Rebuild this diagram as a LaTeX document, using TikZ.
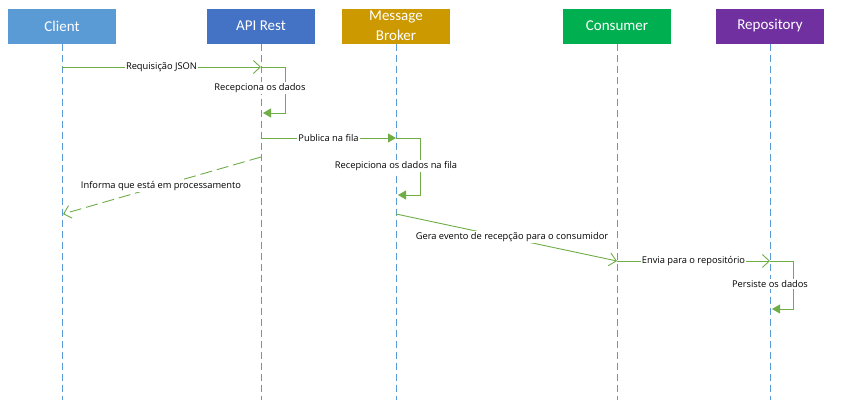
\documentclass[tikz,border=0pt]{standalone}
\usepackage{fontspec}
\setmainfont{Open Sans}
\newfontfamily\headfont{Carlito}
\usetikzlibrary{arrows.meta}
\definecolor{cClient}{HTML}{5B9BD5}
\definecolor{cApi}{HTML}{4472C4}
\definecolor{cBroker}{HTML}{CC9900}
\definecolor{cCons}{HTML}{00B050}
\definecolor{cRepo}{HTML}{7030A0}
\definecolor{cMsg}{HTML}{70AD47}
\definecolor{cLife}{HTML}{5B9BD5}
\tikzset{
  head/.style={minimum width=108pt, minimum height=35pt, inner sep=0pt, text=white, font=\headfont\fontsize{15}{19}\selectfont, align=center},
  life/.style={draw=cLife, line width=0.8pt, dash pattern=on 7pt off 4pt},
  msgopen/.style={draw=cMsg, line width=0.9pt, -{Straight Barb[length=7pt,width=13pt]}},
  msgfill/.style={draw=cMsg, line width=0.9pt, -{Triangle[length=8pt,width=9pt]}},
  lbl/.style={fill=white, inner sep=1pt, font=\fontsize{9.3}{10}\selectfont, text=black}
}
\begin{document}
\begin{tikzpicture}[x=1pt,y=-1pt]
\useasboundingbox[fill=white] (0,0) rectangle (845,415);
% headers
\node[head, fill=cClient] (client) at (62,26) {Client};
\node[head, fill=cApi] (api) at (261,26) {API Rest};
\node[head, fill=cBroker] (broker) at (396,26) {Message\\[1pt]Broker};
\node[head, fill=cCons] (cons) at (617,26) {Consumer};
\node[head, fill=cRepo] (repo) at (770,26) {Repository};
% lifeline ends
\coordinate (clientE) at (62,400);
\coordinate (apiE) at (261,400);
\coordinate (brokerE) at (396,400);
\coordinate (consE) at (617,400);
\coordinate (repoE) at (770,400);
\draw[life] (client.south) -- (clientE);
\draw[life] (api.south) -- (apiE);
\draw[life] (broker.south) -- (brokerE);
\draw[life] (cons.south) -- (consE);
\draw[life] (repo.south) -- (repoE);
% message points
\coordinate (m1s) at (62,67);
\coordinate (m1e) at (261,67);
\coordinate (m2e) at (263,113);
\coordinate (m3s) at (261,138);
\coordinate (m3e) at (396,138);
\coordinate (m4e) at (398,195);
\coordinate (m5s) at (261,157);
\coordinate (m5e) at (63,214);
\coordinate (m6s) at (396,214);
\coordinate (m6e) at (617,261);
\coordinate (m7e) at (770,261);
\coordinate (m8e) at (772,309);
% messages
\draw[msgopen] (m1s) -- node[lbl] (l1) {Requisição JSON} (m1e);
\draw[msgfill] (m1e) -- ++(24,0) |- (m2e);
\node[lbl] (l2) at (260,88) {Recepciona os dados};
\draw[msgfill] (m3s) -- node[lbl] (l3) {Publica na fila} (m3e);
\draw[msgfill] (m3e) -- ++(24,0) |- (m4e);
\node[lbl] (l4) at (396,166) {Recepiciona os dados na fila};
\draw[msgopen, dash pattern=on 12pt off 5pt] (m5s) -- (m5e);
\node[lbl] (l5) at (161,186) {Informa que está em processamento};
\draw[msgopen] (m6s) -- (m6e);
\node[lbl] (l6) at (512,237) {Gera evento de recepção para o consumidor};
\draw[msgopen] (m6e) -- node[lbl] (l7) {Envia para o repositório} (m7e);
\draw[msgfill] (m7e) -- ++(23,0) |- (m8e);
\node[lbl] (l8) at (770,284) {Persiste os dados};
\end{tikzpicture}
\end{document}
